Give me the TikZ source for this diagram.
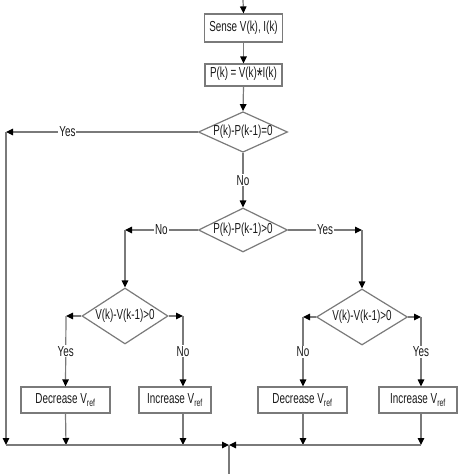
\documentclass[tikz,border=0pt]{standalone}
\usepackage{fontspec}
\setmainfont{Liberation Sans}[FakeStretch=0.68]
\usetikzlibrary{shapes.geometric,arrows.meta}
\definecolor{ln}{HTML}{7A7A7A}
\definecolor{tx}{HTML}{1A1A1A}
\begin{document}
\begin{tikzpicture}[x=1pt,y=-1pt,
  font=\fontsize{14.5}{16}\selectfont, text=tx,
  conn/.style={draw=ln, line width=1.2pt},
  arr/.style={conn, -{Triangle[length=7pt,width=6.5pt,fill=black,color=black]}},
  procbox/.style={draw=ln, line width=1.2pt, rectangle, inner sep=0pt, fill=white},
  decide/.style={draw=ln, line width=1.2pt, diamond, inner sep=0pt, aspect=2.2},
  lab/.style={fill=white, inner sep=1pt}]
\useasboundingbox (0,0) rectangle (474,474);
% nodes
\coordinate (top) at (243,0);
\node[procbox, minimum width=78pt, minimum height=28pt] (sense) at (243.5,28) {Sense V(k), I(k)};
\node[procbox, minimum width=77pt, minimum height=22pt] (prod) at (243.5,75) {P(k)\,=\,V(k)\raisebox{-0.75ex}{\fontsize{22}{22}\selectfont *}I(k)};
\node[decide, minimum width=88pt, minimum height=40pt] (d1) at (243,132) {P(k)-P(k-1)=0};
\node[decide, minimum width=88pt, minimum height=44pt] (d2) at (243,230) {P(k)-P(k-1)>0};
\node[decide, aspect=1.5, minimum width=86pt, minimum height=56pt] (d3) at (125,316) {V(k)-V(k-1)>0};
\node[decide, aspect=1.6, minimum width=91pt, minimum height=56pt] (d4) at (362,317) {V(k)-V(k-1)>0};
\node[procbox, minimum width=89pt, minimum height=26pt] (b1) at (65.5,400) {Decrease V\textsubscript{ref}};
\node[procbox, minimum width=72pt, minimum height=26pt] (b2) at (175,400) {Increase V\textsubscript{ref}};
\node[procbox, minimum width=89pt, minimum height=26pt] (b3) at (302.5,400) {Decrease V\textsubscript{ref}};
\node[procbox, minimum width=78pt, minimum height=26pt] (b4) at (418,400) {Increase V\textsubscript{ref}};
% helper coordinates
\coordinate (L1) at (6,132);
\coordinate (L2) at (6,445);
\coordinate (J) at (229,445);
\coordinate (R2) at (421,445);
\coordinate (out) at (229,474);
\coordinate (n2) at (125,230);
\coordinate (y2) at (362,230);
\coordinate (c3l) at (66,316);
\coordinate (c3r) at (183,316);
\coordinate (c4l) at (303,317);
\coordinate (c4r) at (421,317);
\coordinate (f1) at (66,445);
\coordinate (f2) at (183,445);
\coordinate (f3) at (303,445);
\coordinate (f4) at (421,445);
% connectors
\draw[arr] (top) -- (sense.north);
\draw[arr] (sense.south) -- (prod.north);
\draw[arr] (prod.south) -- (d1.north);
\draw[arr] (d1.west) -- node[lab, pos=0.68]{Yes} (L1);
\draw[arr] (L1) -- (L2);
\draw[arr] (d1.south) -- node[lab, pos=0.5]{No} (d2.north);
\draw[arr] (d2.west) -- node[lab, pos=0.5]{No} (n2);
\draw[arr] (n2) -- (d3.north);
\draw[arr] (d2.east) -- node[lab, pos=0.5]{Yes} (y2);
\draw[arr] (y2) -- (d4.north);
\draw[arr] (d3.west) -- (c3l);
\draw[arr] (c3l) -- node[lab, pos=0.5]{Yes} (b1.north);
\draw[arr] (d3.east) -- (c3r);
\draw[arr] (c3r) -- node[lab, pos=0.5]{No} (c3r |- b2.north);
\draw[arr] (d4.west) -- (c4l);
\draw[arr] (c4l) -- node[lab, pos=0.5]{No} (c4l |- b3.north);
\draw[arr] (d4.east) -- (c4r);
\draw[arr] (c4r) -- node[lab, pos=0.5]{Yes} (c4r |- b4.north);
\draw[arr] (b1.south) -- (f1);
\draw[arr] (c3r |- b2.south) -- (f2);
\draw[arr] (c4l |- b3.south) -- (f3);
\draw[arr] (c4r |- b4.south) -- (f4);
\draw[arr] (L2) -- (J);
\draw[arr] (R2) -- (J);
\draw[conn] (J) -- (out);
\end{tikzpicture}
\end{document}
